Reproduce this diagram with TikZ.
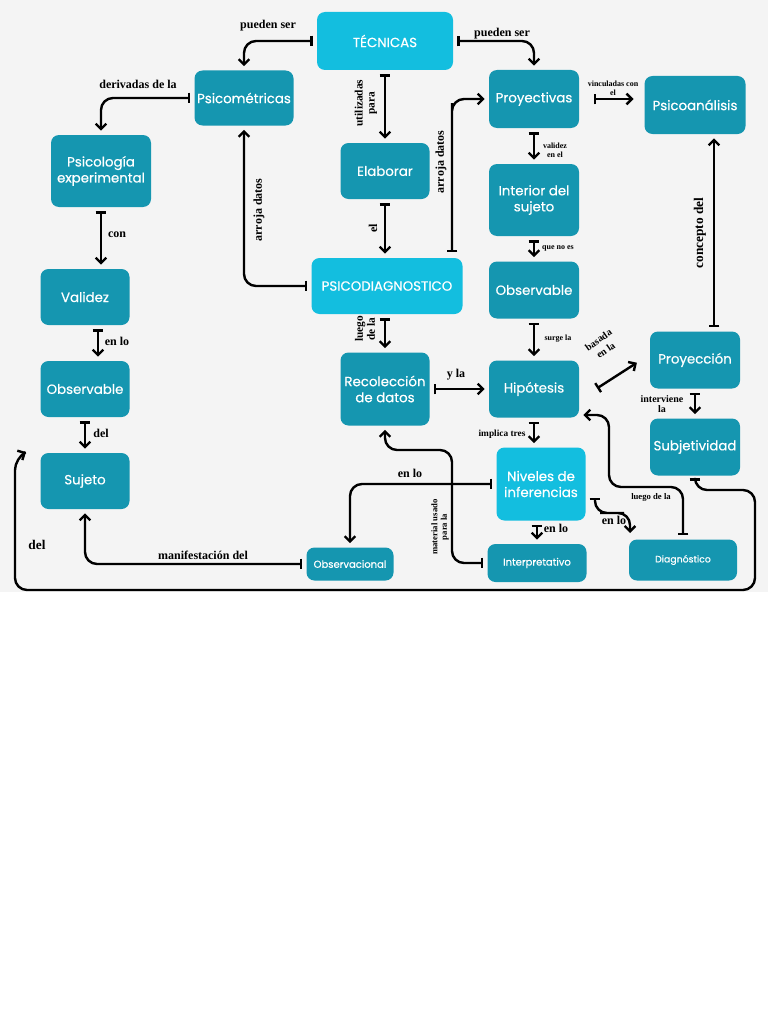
\documentclass[tikz,border=0pt]{standalone}
\usepackage{fontspec}
\setmainfont{Liberation Serif}
\newfontfamily\boxfont{Poppins}[FakeBold=0.5]
\usetikzlibrary{arrows.meta}
\definecolor{dk}{HTML}{1596B0}
\definecolor{lt}{HTML}{13BEDF}
\definecolor{bg}{HTML}{F4F4F4}
\begin{document}
\begin{tikzpicture}[x=0.75pt,y=-0.75pt,
 bx/.style={rectangle,rounded corners=6pt,fill=dk,text=white,align=center,inner sep=0pt,font=\boxfont\fontsize{10}{12}\selectfont},
 lb/.style={bx,fill=lt},
 con/.style={line width=1.8pt,rounded corners=9pt,{Bar[width=8pt]}-{Straight Barb[length=4pt,width=8pt]},shorten <=3pt,shorten >=3pt},
 tl/.style={font=\bfseries\fontsize{9}{9}\selectfont,inner sep=1pt},
 sl/.style={font=\bfseries\fontsize{6}{6.5}\selectfont,inner sep=1pt,align=center}]
\useasboundingbox (0,0) rectangle (768,1024);
\fill[bg] (0,0) rectangle (768,592);
% nodes
\node[lb,minimum width=102pt,minimum height=43.5pt] (tec) at (385,41) {TÉCNICAS};
\node[bx,minimum width=74.25pt,minimum height=41.25pt] (psm) at (244,98) {Psicométricas};
\node[bx,minimum width=75pt,minimum height=54pt] (pex) at (101,171) {Psicología\\experimental};
\node[bx,minimum width=66.75pt,minimum height=42pt] (val) at (85,297) {Validez};
\node[bx,minimum width=66.75pt,minimum height=42pt] (obl) at (85,389) {Observable};
\node[bx,minimum width=66.75pt,minimum height=42pt] (suj) at (85,481) {Sujeto};
\node[bx,minimum width=66.75pt,minimum height=42pt] (ela) at (385,171) {Elaborar};
\node[lb,minimum width=113.25pt,minimum height=42pt] (psd) at (387,286) {PSICODIAGNOSTICO};
\node[bx,minimum width=66.75pt,minimum height=54.75pt] (rec) at (385,389) {Recolección\\de datos};
\node[bx,minimum width=67.5pt,minimum height=43.5pt] (pro) at (534,99) {Proyectivas};
\node[bx,minimum width=75.75pt,minimum height=43.5pt] (psa) at (695,105) {Psicoanálisis};
\node[bx,minimum width=67.5pt,minimum height=54pt] (int) at (534,200) {Interior del\\sujeto};
\node[bx,minimum width=67.5pt,minimum height=42.75pt] (obr) at (534,290) {Observable};
\node[bx,minimum width=67.5pt,minimum height=42.75pt] (hip) at (534,389) {Hipótesis};
\node[bx,minimum width=67.5pt,minimum height=42.75pt] (pyc) at (695,360) {Proyección};
\node[bx,minimum width=67.5pt,minimum height=42.75pt] (sub) at (695,447) {Subjetividad};
\node[lb,minimum width=66.75pt,minimum height=54.75pt] (niv) at (541,484) {Niveles de\\inferencias};
\node[bx,minimum width=65.25pt,minimum height=24.75pt,font=\boxfont\fontsize{7.5}{8}\selectfont] (obs) at (350,564) {Observacional};
\node[bx,minimum width=74.25pt,minimum height=28.5pt,font=\boxfont\fontsize{7.5}{8}\selectfont] (itp) at (537,563) {Interpretativo};
\node[bx,minimum width=81pt,minimum height=30.75pt,font=\boxfont\fontsize{7}{8}\selectfont] (dia) at (683,560) {Diagnóstico};
% connectors
\draw[con] (tec.west) -| (psm.north);
\node[tl] at (268,26) {pueden ser};
\draw[con] (tec.east) -| (pro.north);
\node[tl] at (502,34) {pueden ser};
\draw[con] (psm.west) -| (pex.north);
\node[tl] at (138,84) {derivadas de la};
\draw[con] (pex.south) -- (val.north -| pex.south);
\node[tl] at (117,235) {con};
\draw[con] (val.south -| 98,0) -- (obl.north -| 98,0);
\node[tl] at (117,341) {en lo};
\draw[con] (obl.south) -- (suj.north);
\node[tl] at (101,433) {del};
\draw[con] (obs.west) -| (suj.south);
\node[tl] at (203,555) {manifestación del};
\draw[con] (psd.west) -| (psm.south);
\node[tl,rotate=90] at (259,210) {arroja datos};
\draw[con] (tec.south) -- (ela.north);
\node[tl,rotate=90,align=center,font=\bfseries\fontsize{8.5}{9}\selectfont] at (366,103) {utilizadas\\para};
\draw[con] (ela.south) -- (psd.north -| ela.south);
\node[tl,rotate=90] at (373,228) {el};
\draw[con] (452,256) -- (452,115) [rounded corners=9pt] |- (pro.west);
\node[tl,rotate=90] at (441,162) {arroja datos};
\draw[con] (psd.south -| rec.north) -- (rec.north);
\node[tl,rotate=90,align=center,font=\bfseries\fontsize{8.5}{9}\selectfont] at (365,329) {luego\\de la};
\draw[con] (rec.east) -- (hip.west);
\node[tl] at (456,375) {y la};
\draw[con] (obr.south) -- (hip.north);
\node[sl] at (558,339) {surge la};
\draw[con,shorten <=1pt,shorten >=1pt] (596,389) -- (638,362);
\node[sl,rotate=35,font=\bfseries\fontsize{7.5}{9.5}\selectfont] at (602,345) {basada\\en la};
\draw[con] (pyc.south) -- (sub.north);
\node[sl,font=\bfseries\fontsize{7.5}{8}\selectfont] at (662,404) {interviene\\la};
\draw[con] (pyc.north -| 714,0) -- (psa.south -| 714,0);
\node[tl,rotate=90,font=\bfseries\fontsize{10}{10}\selectfont] at (700,233) {concepto del};
\draw[con,shorten <=11pt,shorten >=8pt] (pro.east) -- (psa.west |- pro.east);
\node[sl] at (613,88) {vinculadas con\\el};
\draw[con] (pro.south) -- (int.north);
\node[sl] at (555,150) {validez\\en el};
\draw[con] (int.south) -- (obr.north);
\node[sl] at (558,248) {que no es};
\draw[con] (hip.south) -- (niv.north -| hip.south);
\node[sl,font=\bfseries\fontsize{7}{7}\selectfont] at (502,434) {implica tres};
\draw[con] (niv.west) -| (obs.north);
\node[tl] at (410,473) {en lo};
\draw[con] (niv.south -| itp.north) -- (itp.north);
\node[tl] at (556,528) {en lo};
\draw[con] (itp.west) -| (452,450) -| (rec.south);
\node[sl,rotate=90,font=\bfseries\fontsize{6.5}{7}\selectfont] at (440,527) {material usado\\para la};
\draw[con] (595,494) |- (612,513) -| (630,537);
\node[tl] at (614,520) {en lo};
\draw[con] (dia.north) |- (609,487) |- (hip.east |- 0,415);
\node[sl,font=\bfseries\fontsize{6.5}{7}\selectfont] at (651,497) {luego de la};
\draw[con,shorten <=2pt,shorten >=0pt] (sub.south) |- (755,490) |- (15,590) -- (15,458) -- (26,452);
\node[tl,font=\bfseries\fontsize{10}{10}\selectfont] at (37,545) {del};
\end{tikzpicture}
\end{document}
